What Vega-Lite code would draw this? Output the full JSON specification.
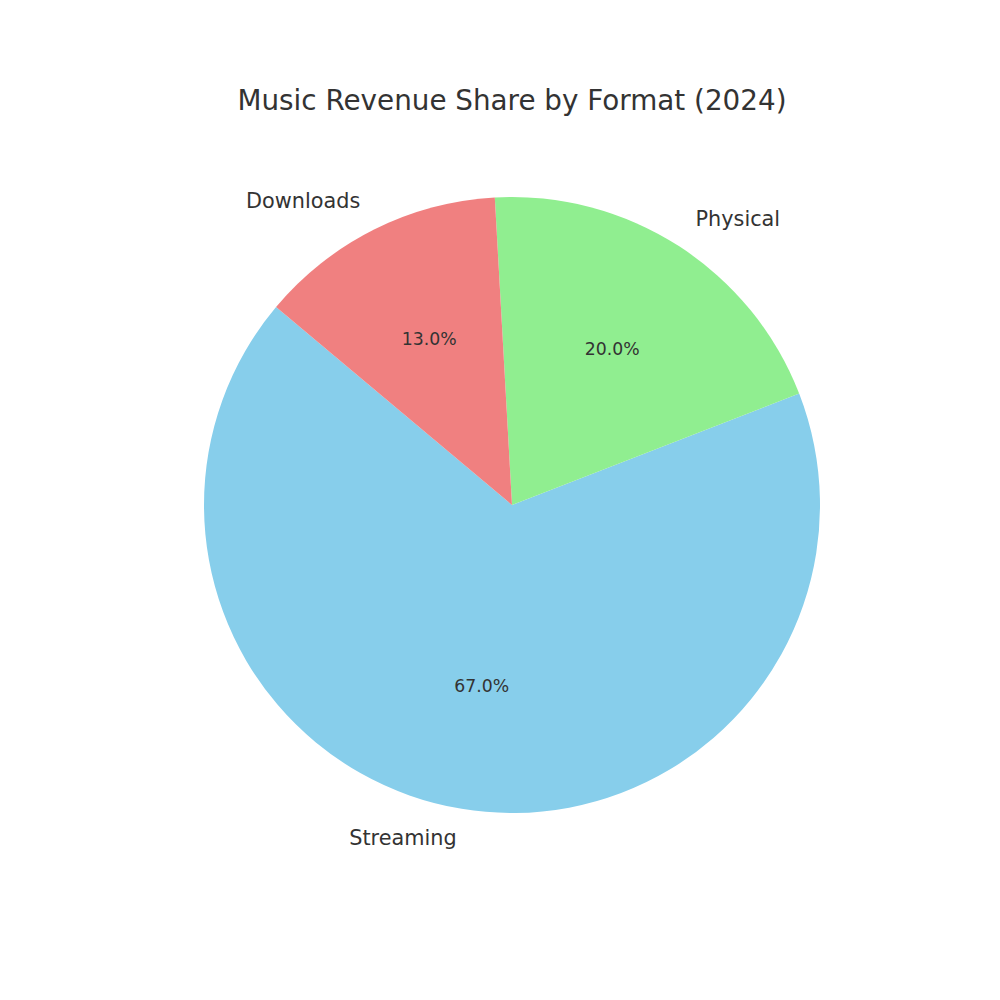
{
  "$schema": "https://vega.github.io/schema/vega-lite/v6.json",
  "description": "Music revenue share by format, 2024.",
  "autosize": "none",
  "width": 1024,
  "height": 610,
  "padding": {"top": 200, "left": 0, "right": 0, "bottom": 190},
  "background": "white",
  "title": {
    "text": "Music Revenue Share by Format (2024)",
    "font": "DejaVu Sans",
    "fontSize": 27.8,
    "fontWeight": "normal",
    "color": "#333333",
    "anchor": "middle",
    "baseline": "alphabetic",
    "offset": 53
  },
  "config": {"view": {"stroke": null}},
  "data": {
    "values": [
      {"format": "Streaming", "share": 0.67},
      {"format": "Physical", "share": 0.20},
      {"format": "Downloads", "share": 0.13}
    ]
  },
  "encoding": {
    "theta": {
      "field": "share",
      "type": "quantitative",
      "stack": true,
      "scale": {"range": [-0.872665, -7.15585]}
    },
    "order": {"field": "format", "sort": "descending"}
  },
  "layer": [
    {
      "mark": {"type": "arc", "outerRadius": 308},
      "encoding": {
        "color": {
          "field": "format",
          "type": "nominal",
          "scale": {
            "domain": ["Streaming", "Physical", "Downloads"],
            "range": ["#87CEEB", "#90EE90", "#F08080"]
          },
          "legend": null
        }
      }
    },
    {
      "mark": {
        "type": "text",
        "radius": 338.8,
        "font": "DejaVu Sans",
        "fontSize": 20.8,
        "color": "#333333",
        "baseline": "middle",
        "align": {"expr": "datum.format === 'Physical' ? 'left' : 'right'"}
      },
      "encoding": {"text": {"field": "format"}}
    },
    {
      "mark": {
        "type": "text",
        "radius": 184.8,
        "font": "DejaVu Sans",
        "fontSize": 17.3,
        "color": "#333333",
        "baseline": "middle",
        "align": "center"
      },
      "encoding": {"text": {"field": "share", "format": ".1%"}}
    }
  ]
}
